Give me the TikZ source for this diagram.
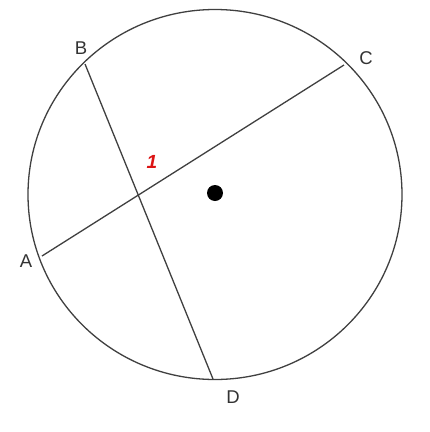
\documentclass[tikz,border=0pt]{standalone}
\usepackage{fontspec}
\setmainfont{Liberation Sans}
\begin{document}
\begin{tikzpicture}[x=1pt,y=-1pt,
  stroke/.style={draw=black!75,line width=1.3pt},
  lbl/.style={font=\fontsize{18.5}{18.5}\selectfont,text=black!80,inner sep=0pt},
  pt/.style={inner sep=0pt,minimum size=0pt}]
\useasboundingbox (0,0) rectangle (430,432);
\fill[white] (0,0) rectangle (430,432);
\draw[stroke] (215,194.5) ellipse [x radius=187,y radius=185];
\coordinate (A) at (42,256);
\coordinate (B) at (85,64);
\coordinate (C) at (344,65);
\coordinate (D) at (213,379);
\draw[stroke] (A) -- (C);
\draw[stroke] (B) -- (D);
\node[circle,fill=black,minimum size=16pt,inner sep=0pt] (O) at (215,193) {};
\node[lbl] (la) at (26,261) {A};
\node[lbl] (lb) at (81,48) {B};
\node[lbl] (lc) at (366,58) {C};
\node[lbl] (ld) at (233,397) {D};
\node[inner sep=0pt,text={rgb,255:red,220;green,20;blue,20},font=\fontsize{19}{19}\selectfont\bfseries\itshape] (one) at (152,162) {1};
\end{tikzpicture}
\end{document}
